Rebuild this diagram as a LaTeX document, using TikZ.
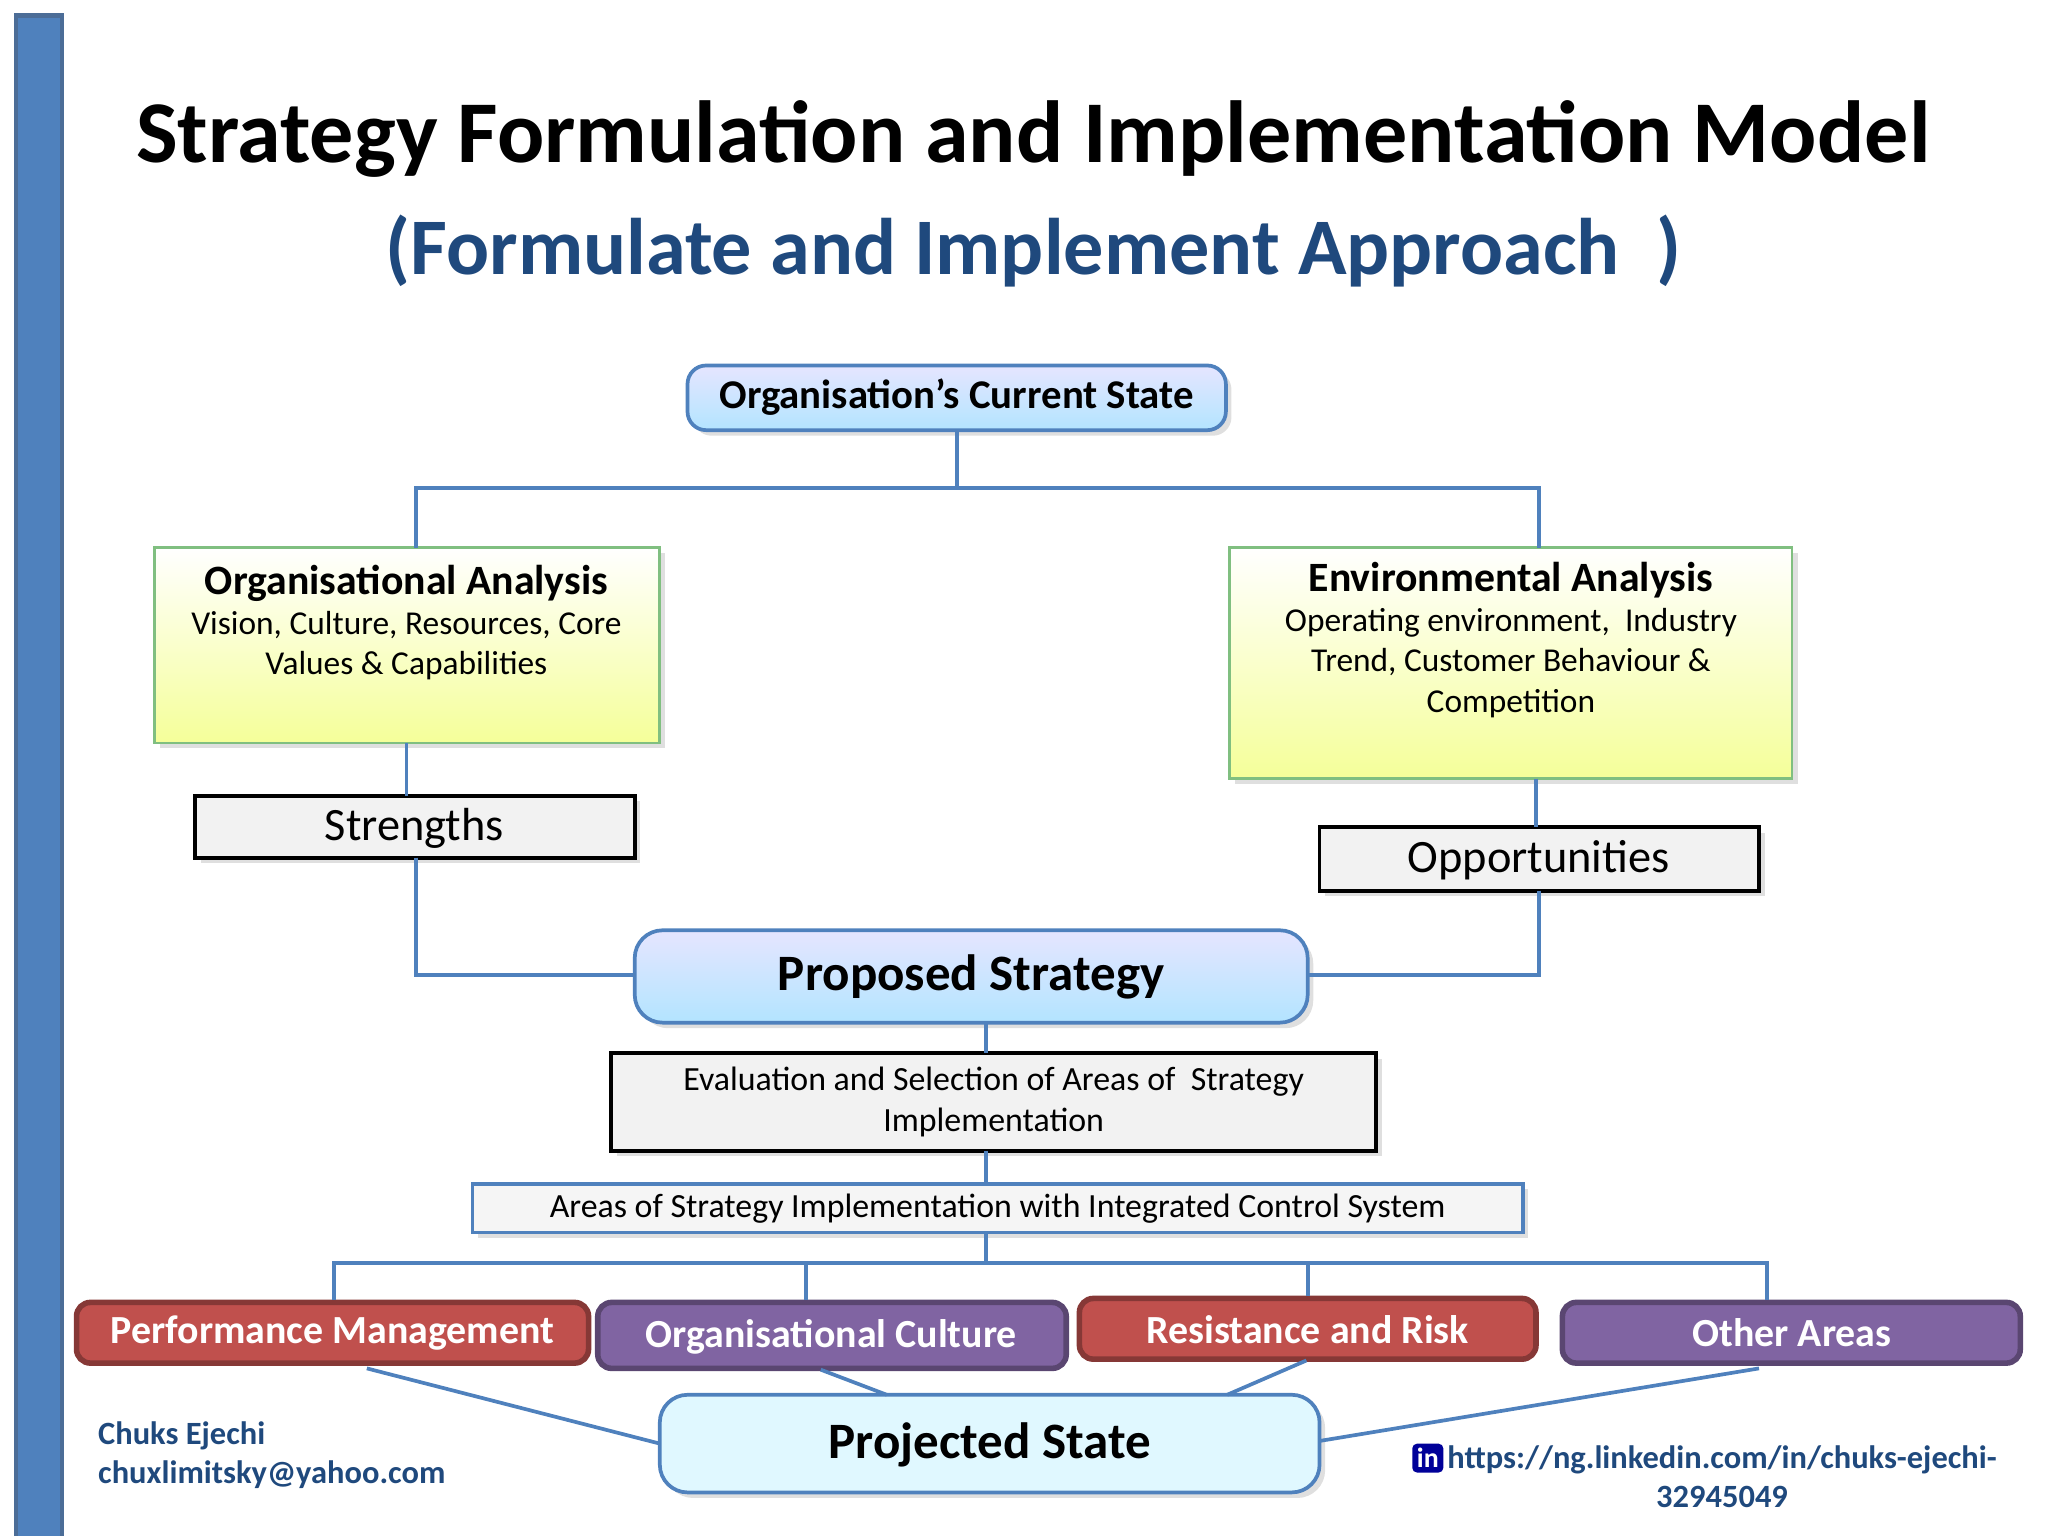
\documentclass[tikz,border=0pt]{standalone}
\usepackage{fontspec}
\setmainfont{Carlito}
\usetikzlibrary{shadows}
\definecolor{dblue}{RGB}{31,73,125}
\definecolor{lnblue}{RGB}{79,129,189}
\definecolor{rd}{RGB}{192,80,77}
\definecolor{pu}{RGB}{128,100,162}
\newcommand{\fs}[1]{\fontsize{#1}{#1}\selectfont\baselineskip=1.2em\relax}
\tikzset{
 shd/.style={drop shadow={opacity=.25,shadow xshift=1.2pt,shadow yshift=-1.2pt}},
 bluebox/.style={draw=lnblue,rounded corners=4pt,top color=blue!10,bottom color=blue!35!cyan!30,shd,line width=0.8pt},
 greenbox/.style={draw=green!50!black!50,top color=white,bottom color=lime!40!yellow!40,shd,line width=0.6pt},
 graybox/.style={draw=black,fill=gray!10,shd,line width=0.8pt},
 redbox/.style={draw=rd!70!black,fill=rd,rounded corners=3pt,line width=1.2pt},
 purbox/.style={draw=pu!70!black,fill=pu,rounded corners=3pt,line width=1.2pt},
 ln/.style={draw=lnblue,line width=0.8pt}
}
\newcommand{\bx}[4]{(#1/100,{(1164-#2)/100}) rectangle (#3/100,{(1164-#4)/100})}
\newcommand{\pt}[2]{(#1/100,{(1164-#2)/100})}
\begin{document}
\begin{tikzpicture}
\useasboundingbox (0,0) rectangle (15.52,11.64);
\fill[lnblue] \bx{12}{12}{47}{1168};
\draw[dblue!80,line width=1pt] \bx{12}{12}{47}{1168};
\node[font=\bfseries\fs{19}] (title) at \pt{783}{105} {Strategy Formulation and Implementation Model};
\node[font=\bfseries\fs{17.3},text=dblue] (sub) at \pt{783}{190} {(Formulate and Implement Approach \ )};
% boxes
\path[bluebox] \bx{521}{277}{929}{326};
\node[font=\bfseries\fs{8.8}] (cur) at \pt{725}{301} {Organisation’s Current State};
\path[greenbox] \bx{117}{415}{500}{563};
\node[align=center,font=\fs{7.2}] (oa) at \pt{308}{472} {{\bfseries\fs{9}Organisational Analysis}\\Vision, Culture, Resources, Core\\Values \& Capabilities};
\path[greenbox] \bx{932}{415}{1358}{590};
\node[align=center,font=\fs{7.2}] (ea) at \pt{1145}{485} {{\bfseries\fs{9}Environmental Analysis}\\Operating environment,\ \ Industry\\Trend, Customer Behaviour \&\\Competition};
\path[graybox] \bx{148}{603}{481}{650};
\node[font=\fs{10}] (st) at \pt{314}{628} {Strengths};
\path[graybox] \bx{1000}{627}{1333}{675};
\node[font=\fs{10}] (op) at \pt{1166}{652} {Opportunities};
\path[bluebox,rounded corners=6pt] \bx{481}{705}{991}{775};
\node[font=\bfseries\fs{11}] (ps) at \pt{736}{740} {Proposed Strategy};
\path[graybox] \bx{463}{798}{1043}{872};
\node[align=center,font=\fs{7.3}] (ev) at \pt{753}{835} {Evaluation and Selection of Areas of\ \ Strategy\\Implementation};
\path[graybox,draw=lnblue,fill=gray!8] \bx{358}{897}{1154}{934};
\node[font=\fs{7.3}] (ar) at \pt{756}{916} {Areas of Strategy Implementation with Integrated Control System};
\path[redbox] \bx{58}{987}{446}{1033}; \node[text=white,font=\bfseries\fs{8.6}] (pm) at \pt{252}{1010} {Performance Management};
\path[purbox] \bx{453}{987}{808}{1037}; \node[text=white,font=\bfseries\fs{8.6}] (oc) at \pt{630}{1013} {Organisational Culture};
\path[redbox] \bx{818}{984}{1164}{1030}; \node[text=white,font=\bfseries\fs{8.6}] (rr) at \pt{991}{1008} {Resistance and Risk};
\path[purbox] \bx{1184}{987}{1531}{1033}; \node[text=white,font=\bfseries\fs{8.6}] (oth) at \pt{1358}{1010} {Other Areas};
\path[draw=lnblue,line width=0.8pt,rounded corners=6pt,fill=blue!22!cyan!12,shd] \bx{500}{1057}{1000}{1131};
\node[font=\bfseries\fs{11}] (pj) at \pt{750}{1095} {Projected State};
% connectors
\draw[ln] \pt{725}{326} -- \pt{725}{370};
\draw[ln] \pt{315}{415} -- \pt{315}{370} -- \pt{1166}{370} -- \pt{1166}{415};
\draw[ln] \pt{308}{563} -- \pt{308}{603};
\draw[ln] \pt{315}{650} -- \pt{315}{739} -- \pt{481}{739};
\draw[ln] \pt{1164}{590} -- \pt{1164}{627};
\draw[ln] \pt{1166}{675} -- \pt{1166}{739} -- \pt{991}{739};
\draw[ln] \pt{747}{775} -- \pt{747}{798};
\draw[ln] \pt{747}{872} -- \pt{747}{897};
\draw[ln] \pt{747}{934} -- \pt{747}{957};
\draw[ln] \pt{253}{985} -- \pt{253}{957} -- \pt{1339}{957} -- \pt{1339}{985};
\draw[ln] \pt{611}{957} -- \pt{611}{985};
\draw[ln] \pt{991}{957} -- \pt{991}{982};
\draw[ln] \pt{278}{1037} -- \pt{500}{1094};
\draw[ln] \pt{622}{1038} -- \pt{672}{1057};
\draw[ln] \pt{990}{1031} -- \pt{930}{1057};
\draw[ln] \pt{1333}{1037} -- \pt{1000}{1092};
% footer
\node[anchor=west,align=left,text=dblue,font=\bfseries\fs{7}] (au) at \pt{62}{1103} {Chuks Ejechi\\chuxlimitsky@yahoo.com};
\node[fill=blue!60!black,text=white,font=\bfseries\fs{6},inner sep=1pt,rounded corners=1pt] (li) at \pt{1082}{1105} {in};
\node[align=center,text=dblue,font=\bfseries\fs{7}] (url) at \pt{1305}{1119} {https://ng.linkedin.com/in/chuks-ejechi-\\32945049};
\end{tikzpicture}
\end{document}
